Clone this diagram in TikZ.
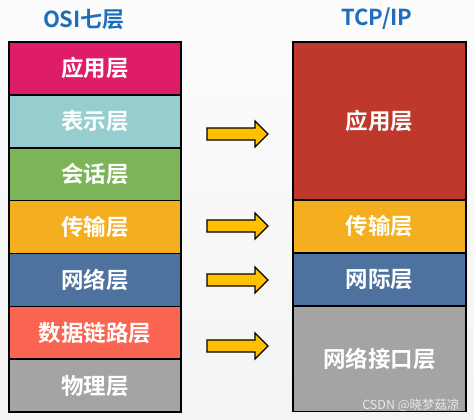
\documentclass[tikz,border=0pt]{standalone}
\usepackage{fontspec}
\setmainfont{Noto Sans CJK SC}[BoldFont={* Bold}]
\usepackage{xcolor}
\usetikzlibrary{positioning}

\definecolor{titleblue}{RGB}{31,110,190}
\definecolor{osiapp}{RGB}{222,28,104}
\definecolor{osipres}{RGB}{150,206,207}
\definecolor{osisess}{RGB}{125,180,88}
\definecolor{netorange}{RGB}{245,175,30}
\definecolor{netblue}{RGB}{78,114,160}
\definecolor{osilink}{RGB}{250,100,82}
\definecolor{netgrey}{RGB}{166,163,163}
\definecolor{tcpapp}{RGB}{190,57,43}
\definecolor{arrowyellow}{RGB}{255,192,0}

\begin{document}
\begin{tikzpicture}[
  x=1bp, y=-1bp,
  layer/.style={draw, line width=1.6bp, outer sep=0pt, inner sep=0pt,
                minimum width=172bp, minimum height=52.86bp,
                text=white, font=\fontsize{22.5bp}{26bp}\selectfont\bfseries},
  stacktitle/.style={text=titleblue, inner sep=0pt,
                     font=\fontsize{22bp}{26bp}\selectfont\bfseries},
  blockarrow/.style={draw, line width=1.2bp, fill=arrowyellow, line join=miter}
]
  \shade[top color=white!98!gray, bottom color=white!91!gray] (0,0) rectangle (474,419);

  \node[stacktitle] (osititle) at (84,19) {OSI七层};
  \node[stacktitle] (tcptitle) at (377,19) {TCP/IP};

  % OSI
  \node[layer, fill=osiapp, anchor=north west] (app) at (9,42) {应用层};
  \node[layer, fill=osipres, below=0pt of app] (pres) {表示层};
  \node[layer, fill=osisess, below=0pt of pres] (sess) {会话层};
  \node[layer, fill=netorange, below=0pt of sess] (trans) {传输层};
  \node[layer, fill=netblue, below=0pt of trans] (net) {网络层};
  \node[layer, fill=osilink, below=0pt of net] (link) {数据链路层};
  \node[layer, fill=netgrey, below=0pt of link] (phys) {物理层};

  % TCP/IP
  \node[layer, fill=tcpapp, minimum width=173bp, minimum height=158bp,
        anchor=north west] (tapp) at (293,42) {应用层};
  \node[layer, fill=netorange, minimum width=173bp, below=0pt of tapp] (ttrans) {传输层};
  \node[layer, fill=netblue, minimum width=173bp, below=0pt of ttrans] (tnet) {网际层};
  \node[layer, fill=netgrey, minimum width=173bp, minimum height=105.7bp,
        below=0pt of tnet] (tlink) {网络接口层};

  \foreach \y in {134,226,280,346}
    \draw[blockarrow] (207,\y-6) -- (255,\y-6) -- (255,\y-13) -- (268,\y)
      -- (255,\y+13) -- (255,\y+6) -- (207,\y+6) -- cycle;

  \node[text=white!82!gray, font=\fontsize{12.5bp}{14bp}\selectfont] (mark)
    at (411,405) {CSDN @晓梦菇凉};
\end{tikzpicture}
\end{document}
